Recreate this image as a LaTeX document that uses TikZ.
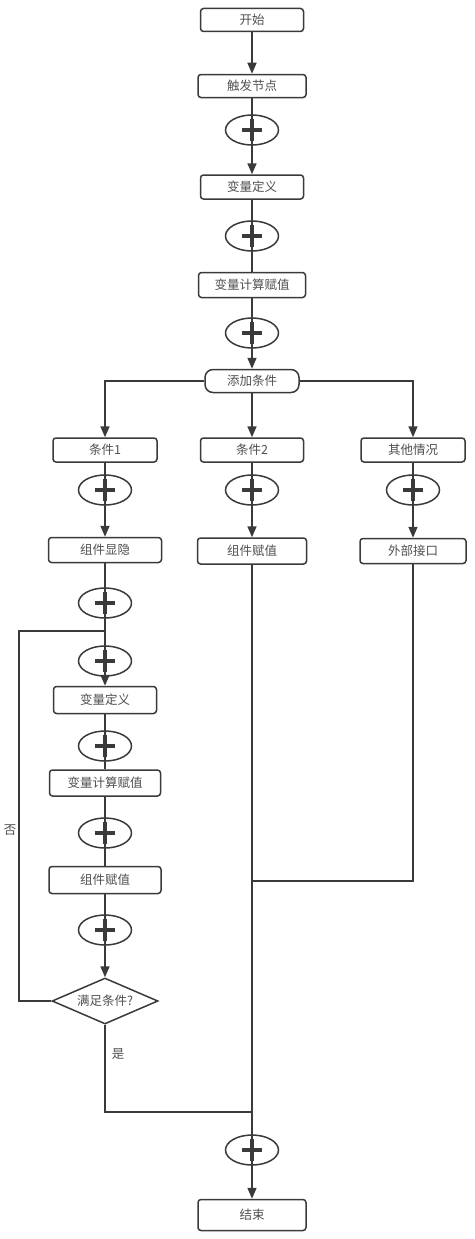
\documentclass[tikz,border=0pt]{standalone}
\usepackage{fontspec}
\setmainfont{Noto Sans CJK SC}
\usetikzlibrary{shapes.geometric,arrows.meta}
\definecolor{ln}{HTML}{3A3A3A}
\definecolor{tx}{HTML}{505050}
\begin{document}
\begin{tikzpicture}[x=1pt,y=-1pt,
  line width=1.6pt, draw=ln,
  box/.style={draw=ln, line width=1.5pt, rounded corners=3pt, inner sep=0pt,
    font=\fontsize{12.5}{14}\selectfont, text=tx, fill=white},
  pill/.style={box, rounded corners=8pt},
  dia/.style={draw=ln, line width=1.5pt, shape=diamond, inner sep=0pt, aspect=2.3,
    minimum width=106pt, minimum height=46pt, font=\fontsize{12.5}{14}\selectfont, text=tx, fill=white},
  plusnode/.style={draw=ln, line width=1.5pt, shape=ellipse, minimum width=53pt, minimum height=30pt, inner sep=0pt,
    path picture={
      \draw[line width=3.6pt, draw=ln] ([xshift=-10pt]path picture bounding box.center) -- ([xshift=10pt]path picture bounding box.center);
      \draw[line width=3.6pt, draw=ln] ([yshift=-11pt]path picture bounding box.center) -- ([yshift=11pt]path picture bounding box.center);
    }},
  arr/.style={-{Triangle[width=9pt,length=11pt]}},
  lbl/.style={font=\fontsize{12.5}{14}\selectfont, text=tx, inner sep=0pt}
]
\useasboundingbox (0,0) rectangle (474,1239);

% main column
\node[box, minimum width=103pt, minimum height=23pt] (start) at (252,20) {开始};
\node[box, minimum width=108pt, minimum height=23pt] (trig) at (252,86) {触发节点};
\node[plusnode] (p1) at (252,130) {};
\node[box, minimum width=103pt, minimum height=24pt] (var1) at (252,187) {变量定义};
\node[plusnode] (p2) at (252,236) {};
\node[box, minimum width=107pt, minimum height=25pt] (calc1) at (252,285) {变量计算赋值};
\node[plusnode] (p3) at (252,333) {};
\node[pill, minimum width=94pt, minimum height=23pt] (add) at (252,381) {添加条件};

% three branches
\node[box, minimum width=104pt, minimum height=24pt] (c1) at (105,450) {条件1};
\node[box, minimum width=103pt, minimum height=24pt] (c2) at (252,450) {条件2};
\node[box, minimum width=104pt, minimum height=24pt] (c3) at (413,450) {其他情况};
\node[plusnode] (q1) at (105,490) {};
\node[plusnode] (q2) at (252,490) {};
\node[plusnode] (q3) at (413,490) {};
\node[box, minimum width=113pt, minimum height=25pt] (show) at (105,550) {组件显隐};
\node[box, minimum width=109pt, minimum height=26pt] (assign2) at (252,551) {组件赋值};
\node[box, minimum width=106pt, minimum height=25pt] (ext) at (413,551) {外部接口};

% left loop column
\node[plusnode] (q4) at (105,603) {};
\coordinate (jl) at (105,631);
\coordinate (lpc) at (19,631);
\node[plusnode] (q5) at (105,661) {};
\node[box, minimum width=103pt, minimum height=27pt] (var2) at (105,700) {变量定义};
\node[plusnode] (q6) at (105,746) {};
\node[box, minimum width=111pt, minimum height=26pt] (calc2) at (105,783) {变量计算赋值};
\node[plusnode] (q7) at (105,833) {};
\node[box, minimum width=112pt, minimum height=27pt] (assign3) at (105,880) {组件赋值};
\node[plusnode] (q8) at (105,930) {};
\node[dia] (cond) at (105,1001) {满足条件?};
\node[lbl] (yes) at (118,1054) {是};
\node[lbl] (no) at (10,830) {否};

% joins and end
\coordinate (j1) at (252,881);
\coordinate (j2) at (252,1112);
\node[plusnode] (q9) at (252,1150) {};
\node[box, minimum width=108pt, minimum height=31pt] (end) at (252,1215) {结束};

% connectors
\draw[arr] (start) -- (trig);
\draw[arr] (trig) -- (p1.center) -- (var1);
\draw (var1) -- (p2.center) -- (calc1);
\draw[arr] (calc1) -- (p3.center) -- (add);
\draw[arr] (add.west) -| (c1);
\draw[arr] (add) -- (c2);
\draw[arr] (add.east) -| (c3);
\draw[arr] (c1) -- (q1.center) -- (show);
\draw[arr] (c2) -- (q2.center) -- (assign2);
\draw[arr] (c3) -- (q3.center) -- (ext);
\draw[arr] (show) -- (q4.center) -- (q5.center) -- (var2);
\draw (var2) -- (q6.center) -- (calc2);
\draw (calc2) -- (q7.center) -- (assign3);
\draw[arr] (assign3) -- (q8.center) -- (cond);
\draw (cond.west) -| (lpc) -- (jl);
\draw (cond.south) |- (j2);
\draw (ext) |- (j1);
\draw[arr] (assign2) -- (q9.center) -- (end);
\end{tikzpicture}
\end{document}
